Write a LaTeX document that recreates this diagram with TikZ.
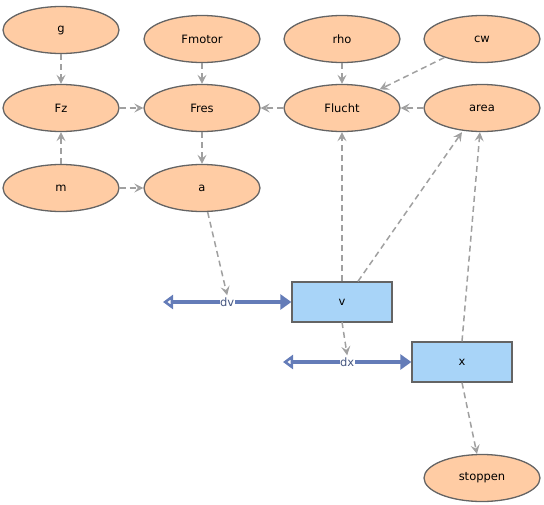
\documentclass[tikz,border=0pt]{standalone}
\usepackage{fontspec}
\setmainfont{DejaVu Sans}
\usetikzlibrary{arrows.meta,shapes.geometric}
\definecolor{peach}{RGB}{255,204,164}
\definecolor{edgegray}{RGB}{100,100,100}
\definecolor{boxblue}{RGB}{168,212,248}
\definecolor{flowblue}{RGB}{100,124,184}
\definecolor{linkgray}{RGB}{160,160,160}
\begin{document}
\begin{tikzpicture}[x=1pt,y=-1pt,
  var/.style={ellipse,draw=edgegray,line width=1.3pt,fill=peach,minimum width=116pt,minimum height=47pt,inner sep=0pt,font=\fontsize{11.5}{13}\selectfont},
  stock/.style={rectangle,draw=edgegray,line width=1.3pt,fill=boxblue,minimum width=100pt,minimum height=40pt,inner sep=0pt,font=\fontsize{11.5}{13}\selectfont},
  link/.style={draw=linkgray,line width=1.5pt,dash pattern=on 6pt off 4pt,-{Stealth[length=9pt,width=9pt,inset=3.5pt]}},
  flow/.style={draw=flowblue,line width=3.5pt,{Triangle[open,length=10pt,width=14pt,fill=white]}-{Triangle[length=11pt,width=15pt]}},
  flowlabel/.style={inner sep=0.5pt,fill=white,text=flowblue!70!black,font=\fontsize{11.5}{13}\selectfont}]
\useasboundingbox (0,0) rectangle (544,504);
\node[var] (g) at (61,30) {g};
\node[var] (Fmotor) at (202,39) {Fmotor};
\node[var] (rho) at (342,39) {rho};
\node[var] (cw) at (482,39) {cw};
\node[var] (Fz) at (61,108) {Fz};
\node[var] (Fres) at (202,108) {Fres};
\node[var] (Flucht) at (342,108) {Flucht};
\node[var] (area) at (482,108) {area};
\node[var] (m) at (61,188) {m};
\node[var] (a) at (202,188) {a};
\node[var] (stoppen) at (482,478) {stoppen};
\node[stock] (v) at (342,302) {v};
\node[stock] (x) at (462,362) {x};
\coordinate (dvs) at (163,302);
\coordinate (dxs) at (283,362);
\draw[flow] (dvs) -- (v.west) node[flowlabel,pos=0.5] (dv) {dv};
\draw[flow] (dxs) -- (x.west) node[flowlabel,pos=0.5] (dx) {dx};
\draw[link] (g) -- (Fz);
\draw[link] (Fmotor) -- (Fres);
\draw[link] (rho) -- (Flucht);
\draw[link] (cw) -- (Flucht);
\draw[link] (Fz) -- (Fres);
\draw[link] (Flucht) -- (Fres);
\draw[link] (area) -- (Flucht);
\draw[link] (m) -- (Fz);
\draw[link] (m) -- (a);
\draw[link] (Fres) -- (a);
\draw[link] (a) -- (dv.north);
\draw[link] (v.north) -- (Flucht);
\draw[link] ([xshift=16pt]v.north) -- ([xshift=-20pt]area.south);
\draw[link] (x.north) -- (area);
\draw[link] (v) ++(0,20) -- (dx.north);
\draw[link] (x.south) -- (stoppen);
\end{tikzpicture}
\end{document}
